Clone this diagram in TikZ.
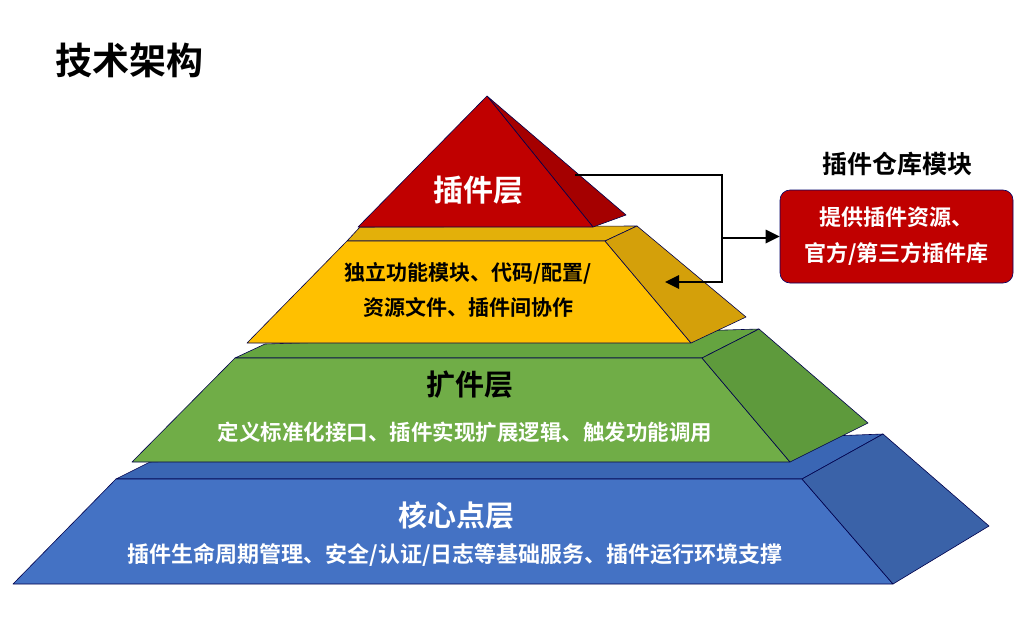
\documentclass[tikz,border=0pt]{standalone}
\usepackage{fontspec}
\setmainfont{Noto Sans CJK SC}
\newfontfamily\cjkb{Noto Sans CJK SC Bold}
\begin{document}
\begin{tikzpicture}[x=1pt,y=-1pt,
  face/.style={draw=black!70!blue,line width=0.6pt,line join=round},
  lbl/.style={font=\cjkb,inner sep=0pt,align=center},
  conn/.style={line width=2.6pt,line join=miter}]
\definecolor{rF}{HTML}{C00000}\definecolor{rS}{HTML}{A50000}
\definecolor{yF}{HTML}{FFC000}\definecolor{yS}{HTML}{D4A00A}\definecolor{yT}{HTML}{E3B00A}
\definecolor{gF}{HTML}{70AD47}\definecolor{gS}{HTML}{5E9A3C}\definecolor{gT}{HTML}{65A440}
\definecolor{bF}{HTML}{4472C4}\definecolor{bS}{HTML}{3A62A8}\definecolor{bT}{HTML}{3A66B4}
\useasboundingbox[fill=white] (0,0) rectangle (1035,618);
% blue
\filldraw[face,fill=bT] (150,462) -- (883,434) -- (802,479) -- (116,479) -- cycle;
\filldraw[face,fill=bF] (116,479) -- (802,479) -- (893,584) -- (13,584) -- cycle;
\filldraw[face,fill=bS] (802,479) -- (883,434) -- (989,526) -- (893,584) -- cycle;
% green
\filldraw[face,fill=gT] (265,344) -- (759,329) -- (702,358) -- (235,358) -- cycle;
\filldraw[face,fill=gF] (235,358) -- (702,358) -- (790,462) -- (132,462) -- cycle;
\filldraw[face,fill=gS] (702,358) -- (759,329) -- (868,423) -- (790,462) -- cycle;
% yellow
\filldraw[face,fill=yT] (360,227) -- (637,226) -- (605,241) -- (347,241) -- cycle;
\filldraw[face,fill=yF] (347,241) -- (605,241) -- (691,343) -- (247,343) -- cycle;
\filldraw[face,fill=yS] (605,241) -- (637,226) -- (746,317) -- (691,343) -- cycle;
% red
\filldraw[face,fill=rS] (487,96) -- (626,215) -- (593,227) -- cycle;
\filldraw[face,fill=rF] (487,96) -- (593,227) -- (358,227) -- cycle;
% texts
\node[lbl,font=\cjkb\fontsize{37}{42}\selectfont,anchor=west] (title) at (55,60) {技术架构};
\node[lbl,text=white,font=\cjkb\fontsize{30}{34}\selectfont] (plug) at (478,190) {插件层};
\node[lbl,font=\cjkb\fontsize{21}{35}\selectfont] (ytext) at (468,290) {独立功能模块、代码/配置/\\资源文件、插件间协作};
\node[lbl,font=\cjkb\fontsize{29}{32}\selectfont] (ext) at (470,385) {扩件层};
\node[lbl,text=white,font=\cjkb\fontsize{21.5}{24}\selectfont] (extsub) at (465,432) {定义标准化接口、插件实现扩展逻辑、触发功能调用};
\node[lbl,text=white,font=\cjkb\fontsize{29}{32}\selectfont] (core) at (456,516) {核心点层};
\node[lbl,text=white,font=\cjkb\fontsize{22}{24}\selectfont] (coresub) at (455,555) {插件生命周期管理、安全/认证/日志等基础服务、插件运行环境支撑};
% repo
\node[lbl,font=\cjkb\fontsize{25}{28}\selectfont] (repot) at (897,164) {插件仓库模块};
\node[draw=black!60!blue,line width=0.6pt,fill=rF,rounded corners=10pt,minimum width=233pt,minimum height=93pt,text=white,font=\cjkb\fontsize{22}{36}\selectfont,align=center] (repo) at (896.5,236.5) {提供插件资源、\\官方/第三方插件库};
% connectors
\coordinate (s) at (575,175);
\coordinate (j) at (722,238);
\draw[conn] (s) -- (722,175) -- (722,282) -- (676,282);
\fill (665,282) -- (679,275) -- (679,289) -- cycle;
\draw[conn] (j) -- (768,238);
\fill (repo.west) -- ++(-14,-7) -- ++(0,14) -- cycle;
\end{tikzpicture}
\end{document}
